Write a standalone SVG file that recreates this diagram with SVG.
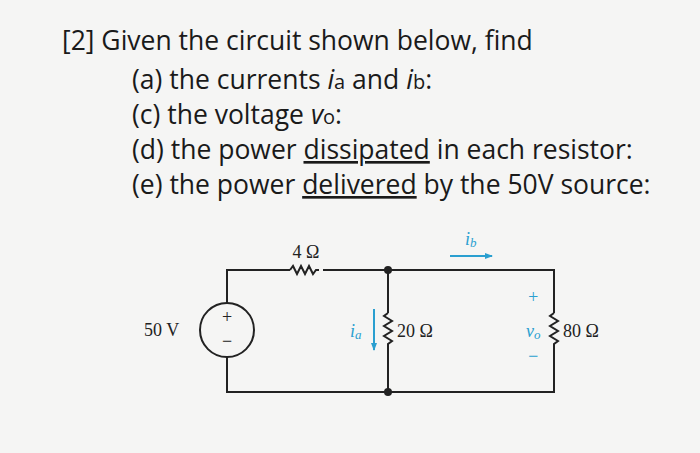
<svg xmlns="http://www.w3.org/2000/svg" width="700" height="453" viewBox="0 0 700 453">
<style>
.q{font-family:"Open Sans","Liberation Sans",sans-serif;font-size:26.5px;fill:#1a1a1a}
.c{font-family:"Liberation Serif",serif;font-size:18px;fill:#222}
.b{font-family:"Liberation Serif",serif;font-style:italic;font-size:18px;fill:#2a9fd0}
.w{fill:none;stroke:#222;stroke-width:2}
.bl{stroke:#2a9fd0;stroke-width:2;fill:none}
</style>
<defs><marker id="ah" markerWidth="8" markerHeight="8" refX="7" refY="4" orient="auto" markerUnits="userSpaceOnUse"><path d="M0,1 L8,4 L0,7z" fill="#2a9fd0"/></marker></defs>
<rect width="700" height="453" fill="#f5f5f4"/>
<g id="question">
<text class="q" x="62" y="50">[2] Given the circuit shown below, find</text>
<text class="q" x="132" y="89">(a) the currents <tspan font-style="italic">i</tspan><tspan font-size="20">a</tspan> and <tspan font-style="italic">i</tspan><tspan font-size="20">b</tspan>:</text>
<text class="q" x="132" y="124">(c) the voltage <tspan font-style="italic">v</tspan><tspan font-size="20">o</tspan>:</text>
<text class="q" x="132" y="159">(d) the power <tspan text-decoration="underline">dissipated</tspan> in each resistor:</text>
<text class="q" x="132" y="194">(e) the power <tspan text-decoration="underline">delivered</tspan> by the 50V source:</text>
</g>
<g id="wires">
<path class="w" d="M227,303 V270 H290 M323,270 H554 V313 M554,347 V392 H227 V357 M388,270 V313 M388,347 V392"/>
<circle cx="388" cy="270" r="4" fill="#222"/>
<circle cx="388" cy="392" r="4" fill="#222"/>
</g>
<g id="source">
<circle class="w" cx="227" cy="330" r="27"/>
<text class="c" x="227" y="323" text-anchor="middle" font-size="16">+</text>
<text class="c" x="227" y="347" text-anchor="middle" font-size="16">−</text>
<text class="c" x="144" y="336">50 V</text>
</g>
<g id="r4">
<path class="w" stroke-width="1.6" d="M290,270 l3,-4 l4,8 l4,-8 l4,8 l4,-8 l4,8 l3,-4 h3"/>
<text class="c" x="306" y="258" text-anchor="middle">4 Ω</text>
</g>
<g id="r20">
<path class="w" stroke-width="1.6" d="M388,313 l-4,3 l8,5 l-8,5 l8,5 l-8,5 l8,5 l-4,3 v3"/>
<text class="c" x="397" y="337">20 Ω</text>
</g>
<g id="r80">
<path class="w" stroke-width="1.6" d="M554,313 l-4,3 l8,5 l-8,5 l8,5 l-8,5 l8,5 l-4,3 v3"/>
<text class="c" x="563" y="337">80 Ω</text>
</g>
<g id="labels">
<line class="bl" x1="450" y1="256" x2="492" y2="256" marker-end="url(#ah)"/>
<text class="b" x="465" y="245">i<tspan font-size="13" dy="2">b</tspan></text>
<line class="bl" x1="374" y1="309" x2="374" y2="350" marker-end="url(#ah)"/>
<text class="b" x="350" y="337">i<tspan font-size="13" dy="2">a</tspan></text>
<text class="b" x="526" y="337">v<tspan font-size="13" dy="2">o</tspan></text>
<text class="b" x="533" y="303" font-style="normal" font-size="15" text-anchor="middle">+</text>
<text class="b" x="533" y="362" font-style="normal" font-size="15" text-anchor="middle">−</text>
</g>
</svg>
